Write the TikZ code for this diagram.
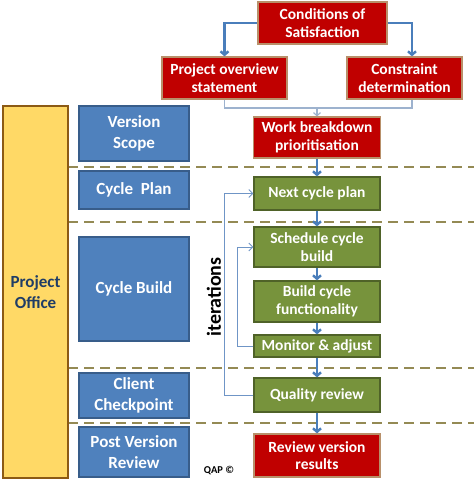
\documentclass[tikz,border=0pt]{standalone}
\usepackage{fontspec}
\setmainfont{Carlito}
\usetikzlibrary{arrows.meta,calc}
\definecolor{redfill}{HTML}{C00000}
\definecolor{redborder}{HTML}{B8906A}
\definecolor{greenfill}{HTML}{77933C}
\definecolor{greenborder}{HTML}{4F6228}
\definecolor{bluefill}{HTML}{4F81BD}
\definecolor{blueborder}{HTML}{385D8A}
\definecolor{yellowfill}{HTML}{FFD966}
\definecolor{yellowborder}{HTML}{8C5A14}
\definecolor{officetext}{HTML}{1F3D66}
\definecolor{sepcol}{HTML}{948A54}
\definecolor{arrowcol}{HTML}{4A7EBB}
\definecolor{thincol}{HTML}{6F95C6}
\definecolor{mergecol}{HTML}{9DB2CE}
\begin{document}
\begin{tikzpicture}[x=1pt,y=-1pt,
  box/.style={draw, line width=1.2pt, align=center, text=white, inner sep=0pt,
    font=\fontsize{15.5}{17.5}\selectfont\bfseries},
  redbox/.style={box, fill=redfill, draw=redborder},
  greenbox/.style={box, fill=greenfill, draw=greenborder, minimum width=126pt},
  bluebox/.style={box, fill=bluefill, draw=blueborder, minimum width=110pt,
    font=\fontsize{17}{20.5}\selectfont\bfseries},
  officebox/.style={box, fill=yellowfill, draw=yellowborder, text=officetext,
    font=\fontsize{17}{21}\selectfont\bfseries},
  sepline/.style={draw=sepcol, line width=2.2pt, dash pattern=on 10pt off 6pt},
  flowarrow/.style={draw=arrowcol, line width=2.4pt, -{Straight Barb[length=3.5pt,width=8pt]}},
  looparrow/.style={draw=thincol, line width=0.9pt, -{Straight Barb[length=4pt,width=8pt]}},
  mergeline/.style={draw=mergecol, line width=1.2pt},
  mergearrow/.style={draw=mergecol, line width=1.2pt, -{Straight Barb[length=3pt,width=7pt]}}
]
\useasboundingbox (0,0) rectangle (474,483);

% separators
\foreach \yy in {167,222,368,423}
  \draw[sepline] (68,\yy) -- (474,\yy);

% project office
\node[officebox, minimum width=65pt, minimum height=372pt] (po) at (35.5,292) {Project\\Office};

% blue phase boxes
\node[bluebox, minimum height=55pt] (vs) at (134,133.5) {Version\\Scope};
\node[bluebox, minimum height=38pt] (cp) at (134,190) {Cycle\ \ Plan};
\node[bluebox, minimum height=104pt] (cb) at (134,289) {Cycle Build};
\node[bluebox, minimum height=45pt] (cc) at (134,395.5) {Client\\Checkpoint};
\node[bluebox, minimum height=50pt] (pvr) at (134,452) {Post Version\\Review};

% top red boxes
\node[redbox, minimum width=129pt, minimum height=42pt] (cos) at (322.5,23) {Conditions of\\Satisfaction};
\node[redbox, minimum width=125pt, minimum height=42pt] (pos) at (224.5,78) {Project overview\\statement};
\node[redbox, minimum width=115pt, minimum height=42pt] (cd) at (404.5,78) {Constraint\\determination};
\node[redbox, minimum width=127pt, minimum height=41pt] (wbs) at (317,137.5) {Work breakdown\\prioritisation};

% green flow
\node[greenbox, minimum height=33pt] (ncp) at (317,193.5) {Next cycle plan};
\node[greenbox, minimum height=40pt] (scb) at (317,247) {Schedule cycle\\build};
\node[greenbox, minimum height=41pt] (bcf) at (317,301.5) {Build cycle\\functionality};
\node[greenbox, minimum height=22pt] (ma) at (317,346) {Monitor \& adjust};
\node[greenbox, minimum height=34pt] (qr) at (317,395) {Quality review};
\node[redbox, minimum width=126pt, minimum height=43pt] (rvr) at (317,455.5) {Review version\\results};

% iterations label and credit
\node[rotate=90, font=\fontsize{20}{24}\selectfont\bfseries, inner sep=0pt] (it) at (214,297) {iterations};
\node[font=\fontsize{10.5}{12}\selectfont\bfseries, inner sep=0pt] (qap) at (219,471) {QAP ©};

% top connectors
\draw[flowarrow] (cos.west) -| (pos.north);
\draw[flowarrow] (cos.east) -| ([xshift=7.5pt]cd.north);
\coordinate (m) at (317,108);
\draw[mergeline] (pos.south) |- (m) -| ([xshift=7.5pt]cd.south);
\draw[mergearrow] (m) -- (wbs.north);

% main flow
\draw[flowarrow] (wbs.south) -- (ncp.north);
\draw[flowarrow] (ncp.south) -- (scb.north);
\draw[flowarrow] (scb.south) -- (bcf.north);
\draw[flowarrow] (bcf.south) -- (ma.north);
\draw[flowarrow] (ma.south) -- (qr.north);
\draw[flowarrow] (qr.south) -- (rvr.north);

% iteration loops
\draw[looparrow] (qr.west) -- ++(-29,0) |- (ncp.west);
\draw[looparrow] (ma.west) -- ++(-16,0) |- (scb.west);
\end{tikzpicture}
\end{document}
